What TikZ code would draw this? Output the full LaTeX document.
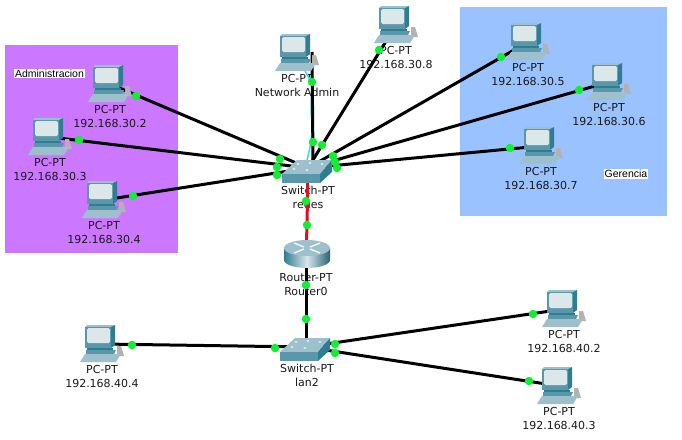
\documentclass[tikz,border=0pt]{standalone}
\usepackage{fontspec}
\setmainfont{DejaVu Sans}
\newfontfamily\notefont{Liberation Sans}
\pgfdeclarelayer{back}
\pgfdeclarelayer{wire}
\pgfdeclarelayer{over}
\pgfsetlayers{back,wire,main,over}
\definecolor{purplezone}{HTML}{CC77FF}
\definecolor{bluezone}{HTML}{99C2FF}
\definecolor{linkgreen}{HTML}{11EE33}
\definecolor{linkred}{HTML}{E01020}
\definecolor{linkcyan}{HTML}{33DDEE}
\definecolor{teal1}{HTML}{5B97AA}
\definecolor{teal2}{HTML}{2F7D90}
\definecolor{teal3}{HTML}{9DC0CC}
\definecolor{screen}{HTML}{DCE7EA}
\tikzset{
  x=1pt, y=-1pt,
  wire/.style={line width=3pt, black},
  dot/.style={circle, fill=linkgreen, inner sep=0pt, minimum size=8.5pt},
  devlabel/.style={font=\fontsize{11}{14}\selectfont, align=center, text=black!90, inner sep=0pt},
  note/.style={fill=white, font=\notefont\fontsize{10.5}{12}\selectfont, inner sep=1pt},
  anchorbox/.style={inner sep=0pt, minimum width=20pt, minimum height=20pt},
  pics/pcicon/.style={code={
    % mouse
    \fill[black!30] (15,2) -- (19,2) -- (22,12) -- (15,12) -- cycle;
    % top and side of the monitor
    \fill[teal3] (-17,-17) -- (-15,-19) -- (13,-19) -- (9,-17) -- cycle;
    \fill[teal2] (9,-17) -- (13,-19) -- (13,1) -- (9,4) -- cycle;
    % front
    \fill[teal1] (-17,-17) rectangle (9,4);
    \fill[screen, rounded corners=1.5pt] (-15,-16) rectangle (8,-1);
    % foot
    \fill[teal2] (-15,4) rectangle (11,6);
    \fill[teal1] (-16,6) -- (14,6) -- (12,10) -- (-16,10) -- cycle;
    % keyboard
    \fill[teal3] (-17,10) -- (19,10) -- (14,18) -- (-22,18) -- cycle;
  }},
  pics/switchicon/.style={code={
    \fill[teal3] (-11,-8) -- (24,-8) -- (12,6) -- (-26,6) -- cycle;
    \fill[teal1] (-26,6) rectangle (12,15);
    \fill[teal2] (12,6) -- (24,-8) -- (24,4) -- (12,15) -- cycle;
    \foreach \a/\b in {-10/-4,2/-5,14/-4,-14/1,-1/2}
      \fill[white!80!teal3] (\a,\b) ellipse (1.6 and .9);
  }},
  pics/routericon/.style={code={
    \shade[left color=teal2, right color=teal2!80!black, middle color=white!60!teal3]
      (-23,-8) -- (-23,4) arc[start angle=180, end angle=0, x radius=23, y radius=8] -- (23,-8) -- cycle;
    \fill[teal3] (0,-8) ellipse (23 and 8);
    \draw[white!85!teal3, line width=1.4pt] (-13,-13) -- (-3,-9) (13,-13) -- (3,-9) (-13,-3) -- (-3,-7) (13,-3) -- (3,-7);
  }},
}
% PC with its two printed lines
\newcommand{\pcdev}[4]{%
  \node[anchorbox] (#1) at (#2,#3) {};
  \pic at (#2,#3) {pcicon};
  \begin{pgfonlayer}{back}
    \node[devlabel] (#1-text) at (#2,#3+32) {PC-PT\\#4};
  \end{pgfonlayer}
}
\begin{document}
\begin{tikzpicture}
\useasboundingbox (0,0) rectangle (682,439);
\begin{pgfonlayer}{back}
  \fill[white] (0,0) rectangle (682,439);
  \fill[purplezone] (5,45) rectangle (178,253);
  \fill[bluezone] (460,7) rectangle (667,216);
  \node[note] (admtext) at (49.5,73.5) {Administracion};
  \node[note] (gertext) at (626,174) {Gerencia};
  \node[devlabel] (sw1-text) at (308,197) {Switch-PT\\redes};
  \node[devlabel] (sw2-text) at (307,375) {Switch-PT\\lan2};
  \node[devlabel] (r0-text) at (306,285) {Router-PT\\Router0};
\end{pgfonlayer}

\pcdev{pc2}{110}{84}{192.168.30.2}
\pcdev{pc3}{50}{137}{192.168.30.3}
\pcdev{pc4}{104}{200}{192.168.30.4}
\pcdev{pc8}{396}{25}{192.168.30.8}
\pcdev{pc5}{528}{42}{192.168.30.5}
\pcdev{pc6}{609}{82}{192.168.30.6}
\pcdev{pc7}{541}{146}{192.168.30.7}
\pcdev{pcb2}{564}{309}{192.168.40.2}
\pcdev{pcb3}{559}{386}{192.168.40.3}
\pcdev{pcb4}{102}{344}{192.168.40.4}
\pcdev{pcadm}{297}{53}{Network Admin}

\node[anchorbox] (sw1) at (308,168) {};
\pic at (308,168) {switchicon};
\node[anchorbox] (sw2) at (306,347) {};
\pic at (306,346) {switchicon};
\node[anchorbox] (r0) at (306,256) {};
\pic at (307,256) {routericon};

% cables run under the devices
\coordinate (admport) at (312,52);
\coordinate (admsw) at (313,160);
\coordinate (redbend) at (307,225);
\coordinate (cy1) at (305,71);
\coordinate (cy2) at (312,83);
\coordinate (cy3) at (311,113);
\coordinate (cy4) at (307,160);
\begin{pgfonlayer}{wire}
  \draw[linkcyan, line width=1.5pt] (cy1) -- (cy2) -- (cy3) .. controls (313,130) and (312,140) .. (cy4);
  \foreach \n in {pc2,pc3,pc4,pc5,pc6,pc7,pc8}
    \draw[wire] (\n.center) -- (sw1.center);
  \draw[wire] (admport) -- (admsw);
  \foreach \n in {pcb2,pcb3,pcb4}
    \draw[wire] (\n.center) -- (sw2.center);
  \draw[wire] (r0.center) -- (sw2.center);
  \draw[line width=3pt, linkred] (sw1.center) -- (redbend) -- (r0.center);
\end{pgfonlayer}

\begin{pgfonlayer}{over}
\foreach \n/\x/\y in {a/136/96, b/79/140, c/133/196, d/280/159, e/277/167, f/277/175,
    g/312/82, h/313/142, i/322/145, j/379/50, k/333/156, l/335/162, m/337/168,
    n/501/57, o/579/90, p/510/148, q/306/201, r/307/225, s/306/285, t/306/319,
    u/132/345, v/275/348, w/335/344, x/335/353, y/533/314, z/529/381}
  \node[dot] (dot\n) at (\x,\y) {};
\end{pgfonlayer}
\end{tikzpicture}
\end{document}
